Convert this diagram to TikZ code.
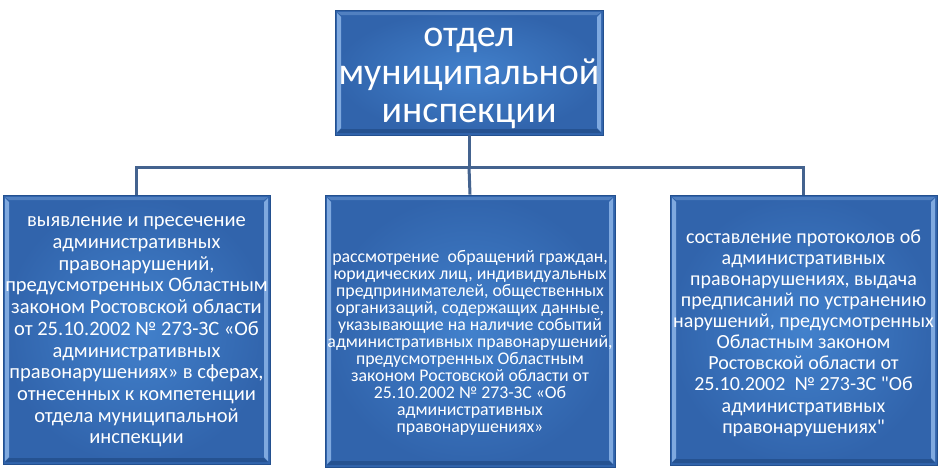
\documentclass[tikz,border=0pt]{standalone}
\usepackage{fontspec}
\setmainfont{Carlito}[Ligatures=TeXOff]
\definecolor{boxin}{HTML}{4281CC}
\definecolor{boxout}{HTML}{3164AC}
\definecolor{boxedge}{HTML}{23508F}
\definecolor{bevlight}{HTML}{8DB6E8}
\definecolor{bevdark}{HTML}{1E467F}
\definecolor{linkc}{HTML}{44638F}
\tikzset{
  box/.style={rectangle, inner sep=0pt, draw=boxedge, line width=0.8pt,
    inner color=boxin, outer color=boxout,
    path picture={
      \fill[bevlight, opacity=0.85] ([xshift=2pt,yshift=-3pt]path picture bounding box.north west) -- ([xshift=6pt,yshift=-7pt]path picture bounding box.north west) -- ([xshift=6pt,yshift=7pt]path picture bounding box.south west) -- ([xshift=2pt,yshift=3pt]path picture bounding box.south west) -- cycle;
      \fill[bevlight, opacity=0.85] ([xshift=-2pt,yshift=-3pt]path picture bounding box.north east) -- ([xshift=-6pt,yshift=-7pt]path picture bounding box.north east) -- ([xshift=-6pt,yshift=7pt]path picture bounding box.south east) -- ([xshift=-2pt,yshift=3pt]path picture bounding box.south east) -- cycle;
      \fill[bevdark, opacity=0.6] ([xshift=2pt,yshift=2pt]path picture bounding box.south west) -- ([xshift=6pt,yshift=6pt]path picture bounding box.south west) -- ([xshift=-6pt,yshift=6pt]path picture bounding box.south east) -- ([xshift=-2pt,yshift=2pt]path picture bounding box.south east) -- cycle;
      \fill[bevlight, opacity=0.35] ([xshift=2pt,yshift=-2pt]path picture bounding box.north west) -- ([xshift=6pt,yshift=-5pt]path picture bounding box.north west) -- ([xshift=-6pt,yshift=-5pt]path picture bounding box.north east) -- ([xshift=-2pt,yshift=-2pt]path picture bounding box.north east) -- cycle;
    }},
  txt/.style={text=white, align=center, inner sep=0pt},
  link/.style={draw=linkc, line width=3pt},
}
\begin{document}
\begin{tikzpicture}[x=1pt, y=-1pt]
\useasboundingbox[fill=white] (0,0) rectangle (948,474);
% boxes
\node[box, minimum width=268pt, minimum height=125pt] (top) at (469,72.5) {};
\node[box, minimum width=267pt, minimum height=269pt] (left) at (136.5,329.5) {};
\node[box, minimum width=290pt, minimum height=272pt] (mid) at (470,331) {};
\node[box, minimum width=267pt, minimum height=270pt] (right) at (803.5,330) {};
% connectors
\coordinate (hub) at (469,167);
\draw[link] (top.south) -- (hub);
\draw[link] (left.north) |- (hub);
\draw[link] (right.north) |- (hub);
\draw[link] (hub) -- (mid.north);
% texts
\node[txt, font=\fontsize{38}{38}\selectfont] (ttop) at (469,78) {отдел\\муниципальной\\инспекции};
\node[txt, font=\fontsize{20.5}{21.7}\selectfont] (tleft) at (136.5,332) {выявление и пресечение\\административных\\правонарушений,\\предусмотренных Областным\\законом Ростовской области\\от 25.10.2002 № 273-ЗС «Об\\административных\\правонарушениях» в сферах,\\отнесенных к компетенции\\отдела муниципальной\\инспекции};
\node[txt, font=\fontsize{17.8}{17}\selectfont] (tmid) at (470,343) {рассмотрение~ обращений граждан,\\юридических лиц, индивидуальных\\предпринимателей, общественных\\организаций, содержащих данные,\\указывающие на наличие событий\\административных правонарушений,\\предусмотренных Областным\\законом Ростовской области от\\25.10.2002 № 273-ЗС «Об\\административных\\правонарушениях»};
\node[txt, font=\fontsize{20}{21.1}\selectfont] (tright) at (803.5,333) {составление протоколов об\\административных\\правонарушениях, выдача\\предписаний по устранению\\нарушений, предусмотренных\\Областным законом\\Ростовской области от\\25.10.2002~ № 273-ЗС "Об\\административных\\правонарушениях"};
\end{tikzpicture}
\end{document}
